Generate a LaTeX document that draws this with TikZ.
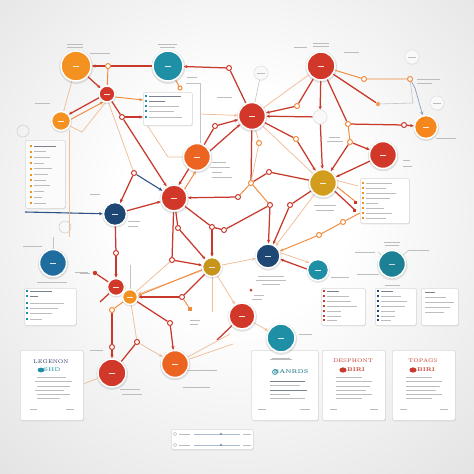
\documentclass[tikz,border=0pt]{standalone}
\usetikzlibrary{shadows,arrows.meta,calc}
\definecolor{bgA}{HTML}{D3D3D3}
\definecolor{redL}{HTML}{C8392B}
\definecolor{oraL}{HTML}{EE8B3C}
\definecolor{ltL}{HTML}{F0BE98}
\definecolor{navL}{HTML}{2D5285}
\definecolor{grL}{HTML}{C4C4C4}
\definecolor{txG}{HTML}{BDBDBD}
\definecolor{txD}{HTML}{7A8290}
\definecolor{cOr}{HTML}{F39221}
\definecolor{cOr2}{HTML}{F6871D}
\definecolor{cOR}{HTML}{EC6422}
\definecolor{cTeal}{HTML}{1F8FA5}
\definecolor{cRed}{HTML}{D2382A}
\definecolor{cNavy}{HTML}{1E4774}
\definecolor{cBlue}{HTML}{1F6C9F}
\definecolor{cMus}{HTML}{D29D1C}
\definecolor{tRed}{HTML}{C63A2E}
\definecolor{tNavy}{HTML}{2B3F66}
\pgfdeclarelayer{bgl}
\pgfdeclarelayer{edl}
\pgfsetlayers{bgl,edl,main}
\pgfdeclareradialshading{bgshade}{\pgfpoint{0bp}{4bp}}{color(0bp)=(white); color(12bp)=(white); color(42bp)=(bgA!75!white); color(60bp)=(bgA); color(80bp)=(bgA)}
\newcommand\TLn[3]{\draw[tx] (#1,#2) -- (#3,#2);}
\newcommand\TLd[3]{\draw[txd] (#1,#2) -- (#3,#2);}
\newcommand\LRow[4]{\fill[#4] (#1-1,#2-1) rectangle ++(2,2); \draw[tx] (#1+3,#2) -- ++(#3,0);}
\newcommand\LRowD[4]{\fill[#4] (#1-1,#2-1) rectangle ++(2,2); \draw[txd] (#1+3,#2) -- ++(#3,0);}
\newcommand\ndbar{\rule{6pt}{0.6pt}}
\begin{document}
\begin{tikzpicture}[x=1pt,y=-1pt,>={Stealth[length=3.6pt,width=3.2pt]},
 nd/.style 2 args={circle,fill=#1,draw=white,line width=1.5pt,minimum size=#2,inner sep=0pt,text=white!85!#1,drop shadow={shadow xshift=0.2pt,shadow yshift=-0.9pt,opacity=0.22,shadow scale=1.13}},
 lt/.style={circle,fill=gray!5,draw=gray!22,line width=0.6pt,minimum size=#1,inner sep=0pt,drop shadow={shadow xshift=0.3pt,shadow yshift=-0.8pt,opacity=0.12}},
 gr/.style={circle,draw=gray!35,line width=0.6pt,minimum size=#1,inner sep=0pt},
 mk/.style={circle,draw=#1,fill=white,line width=1pt,minimum size=5pt,inner sep=0pt},
 dt/.style={circle,fill=#1,minimum size=4.5pt,inner sep=0pt},
 eR/.style={draw=redL,line width=1.25pt},
 eO/.style={draw=oraL,line width=0.95pt},
 eL/.style={draw=ltL,line width=0.75pt},
 eG/.style={draw=grL,line width=0.6pt},
 eN/.style={draw=navL,line width=1.1pt},
 tx/.style={draw=txG,line width=0.85pt},
 txd/.style={draw=txD,line width=1pt},
 box/.style={draw=gray!30,fill=white,line width=0.5pt,rounded corners=1.5pt,anchor=north west,inner sep=0pt,drop shadow={shadow xshift=0.5pt,shadow yshift=-1.2pt,opacity=0.18}},
 ttl/.style={font=\fontsize{5.3}{6}\selectfont,inner sep=0pt},
 lgo/.style={font=\fontsize{5.4}{6}\selectfont\bfseries,inner sep=0pt},
]
\begin{pgfonlayer}{bgl}
\shade[shading=bgshade] (0,0) rectangle (474,474);
\end{pgfonlayer}
\useasboundingbox (0,0) rectangle (474,474);

% ---------- boxes ----------
\node[box,minimum width=49pt,minimum height=33pt] (bx1) at (143,92) {};
\node[box,minimum width=40pt,minimum height=68pt,fill=gray!3] (bx2) at (25,140) {};
\node[box,minimum width=49pt,minimum height=45pt] (bx3) at (360,178) {};
\node[box,minimum width=52pt,minimum height=37pt] (bx4) at (24,288) {};
\node[box,minimum width=44pt,minimum height=37pt] (bx5) at (321,288) {};
\node[box,minimum width=41pt,minimum height=37pt] (bx6) at (375,288) {};
\node[box,minimum width=37pt,minimum height=37pt] (bx7) at (421,288) {};
\node[box,minimum width=63pt,minimum height=70pt] (c1) at (20,350) {};
\node[box,minimum width=67pt,minimum height=70pt] (c2) at (251,350) {};
\node[box,minimum width=63pt,minimum height=70pt] (c3) at (322,350) {};
\node[box,minimum width=63pt,minimum height=70pt] (c4) at (392,350) {};
\node[box,minimum width=82pt,minimum height=20pt] (bx8) at (171,429) {};

% box contents
\LRowD{146}{96}{32}{cTeal}\LRowD{146}{101}{16}{cTeal}\LRow{146}{106}{30}{cTeal}\LRow{146}{111}{25}{cTeal}\LRow{146}{117}{33}{cTeal}
\LRowD{31}{146}{22}{cOr}\LRow{31}{151.7}{12}{cOr}\LRow{31}{157.4}{16}{cOr}\LRow{31}{163.1}{10}{cOr}\LRow{31}{168.8}{18}{cOr}\LRow{31}{174.5}{14}{cOr}\LRow{31}{180.2}{12}{cOr}\LRow{31}{185.9}{16}{cOr}\LRow{31}{191.6}{10}{cOr}\LRow{31}{197.3}{8}{cOr}\LRow{31}{203}{12}{cOr}
\LRow{363}{183}{26}{cOr}\LRow{363}{188}{20}{cOr}\LRow{363}{193}{30}{cOr}\LRow{363}{198}{24}{cOr}\LRow{363}{203}{12}{cOr}\LRow{363}{208}{18}{cOr}\LRow{363}{213}{26}{cOr}\LRow{363}{218}{20}{cOr}
\LRowD{27}{291}{22}{cTeal}\LRowD{27}{296}{8}{cTeal}\LRow{27}{303}{34}{cTeal}\LRow{27}{308}{28}{cTeal}\LRow{27}{313}{22}{cTeal}\LRow{27}{319}{12}{cTeal}
\LRowD{324}{291}{12}{cRed}\LRow{324}{296}{22}{cRed}\LRow{324}{301}{24}{cRed}\LRow{324}{306}{30}{cRed}\LRow{324}{311}{14}{cRed}\LRow{324}{316}{14}{cRed}\LRow{324}{320}{10}{cRed}
\LRowD{378}{291}{12}{cNavy}\LRow{378}{296}{20}{cNavy}\LRow{378}{301}{26}{cNavy}\LRow{378}{306}{24}{cNavy}\LRow{378}{311}{14}{cNavy}\LRow{378}{316}{14}{cNavy}\LRow{378}{320}{10}{cNavy}
\TLd{425}{292}{435}\TLn{425}{297}{446}\TLn{425}{302}{454}\TLn{425}{307}{450}\TLn{425}{312}{444}
% cards
\node[ttl,text=tNavy] (t1) at (51,362) {LEGENON};
\fill[cTeal] (41,370) ellipse (3.4pt and 2.4pt);
\node[lgo,text=cTeal!80] (lg1) at (52,370) {SHD};
\TLn{37}{377}{66}\TLn{35}{381}{72}\TLn{37}{386}{70}\TLn{35}{390}{64}\TLn{37}{394}{70}\TLn{37}{398}{60}
\TLn{30}{409}{37}\TLn{66}{409}{74}
\TLn{272}{358}{290}
\draw[cTeal,line width=0.8pt] (275,372) circle (2.4pt);
\node[lgo,text=cTeal!70!gray] (lg2) at (291,372) {BANRDS};
\TLd{270}{381}{305}\TLn{270}{385}{300}\TLd{270}{390}{307}\TLn{270}{394}{290}\TLn{270}{398}{305}
\TLn{258}{409}{266}\TLn{300}{409}{310}
\node[ttl,text=tRed] (t3) at (353,361) {DESPHONT};
\fill[tRed] (343,370) ellipse (3.6pt and 2.6pt);
\node[lgo,text=tRed] (lg3) at (356,370) {BIRI};
\TLn{336}{377}{362}\TLn{336}{381}{372}\TLn{336}{386}{370}\TLn{336}{390}{366}\TLn{336}{394}{372}\TLn{336}{398}{362}
\TLn{330}{409}{337}\TLn{370}{409}{378}
\node[ttl,text=tRed] (t4) at (423,361) {TOPAGS};
\fill[tRed] (413,370) ellipse (3.6pt and 2.6pt);
\node[lgo,text=tRed] (lg4) at (426,370) {BIRI};
\TLn{406}{377}{432}\TLn{406}{381}{442}\TLn{406}{386}{440}\TLn{406}{390}{436}\TLn{406}{394}{442}\TLn{406}{398}{432}
\TLn{400}{409}{407}\TLn{440}{409}{448}
% bottom small box
\foreach \yy in {434,445}{
 \draw[gray!45,line width=0.5pt] (175,\yy) circle (1.8pt);
 \TLn{179}{\yy}{190}
 \draw[navL!40,line width=0.7pt] (194,\yy) -- (240,\yy);
 \fill[navL!70] (221,\yy) circle (1.2pt);
 \TLn{243}{\yy}{251}
}

% ---------- main nodes ----------
\node[nd={cOr}{30pt}] (n1) at (76,66) {\ndbar};
\node[nd={cTeal}{30pt}] (n2) at (168,66) {\ndbar};
\node[nd={cRed}{16pt}] (n3) at (107,94) {\ndbar};
\node[nd={cOr}{19pt}] (n4) at (61,121) {\ndbar};
\node[nd={cOR}{27pt}] (n5) at (197,157) {\ndbar};
\node[nd={cRed}{26pt}] (n6) at (174,198) {\ndbar};
\node[nd={cNavy}{23pt}] (n7) at (115,214) {\ndbar};
\node[nd={cRed}{28pt}] (n8) at (321,66) {\ndbar};
\node[nd={cRed}{27pt}] (n9) at (252,116) {\ndbar};
\node[nd={cOr2}{23pt}] (n10) at (426,127) {\ndbar};
\node[nd={cRed}{27pt}] (n11) at (383,155) {\ndbar};
\node[nd={cMus}{27pt}] (n12) at (323,183) {\ndbar};
\node[lt=14pt] (n13) at (320,117) {};
\node[nd={cNavy}{24pt}] (n14) at (268,256) {\ndbar};
\node[nd={cTeal}{21pt}] (n15) at (318,270) {\ndbar};
\node[nd={cTeal!90!black}{27pt}] (n16) at (392,264) {\ndbar};
\node[nd={cBlue}{27pt}] (n17) at (53,263) {\ndbar};
\node[nd={cMus!95!black}{19pt}] (n18) at (212,267) {\ndbar};
\node[nd={cRed}{17pt}] (n19) at (116,287) {\ndbar};
\node[nd={cOr}{15pt}] (n20) at (130,297) {\ndbar};
\node[nd={cRed}{26pt}] (n21) at (242,316) {\ndbar};
\node[nd={cOR}{27pt}] (n22) at (175,364) {\ndbar};
\node[nd={cRed}{28pt}] (n23) at (112,373) {\ndbar};
\node[nd={cTeal}{28pt}] (n24) at (281,338) {\ndbar};
% light / grey decor circles
\node[lt=14pt] (l1) at (261,73) {};
\node[lt=14pt] (l2) at (412,57) {};
\node[lt=14pt] (l3) at (437,103) {};
\node[gr=12pt] (g1) at (23,131) {};
\node[gr=12pt] (g2) at (65,227) {};
\TLn{257}{73}{265}\TLn{408}{57}{416}\TLn{433}{103}{441}
% markers
\node[mk=oraL] (qb) at (108,66) {};
\node[mk=redL] (qc) at (122,117) {};
\node[mk=redL] (qd) at (134,173) {};
\node[mk=redL] (qa) at (229,68) {};
\node[mk=oraL,minimum size=4pt] (qt2) at (180,88) {};
\node[mk=redL] (qe) at (215,126) {};
\node[mk=oraL] (qf) at (297,106) {};
\node[mk=oraL] (qg) at (348,124) {};
\node[mk=oraL] (qh) at (350,142) {};
\node[mk=redL] (qi) at (404,125) {};
\node[mk=oraL] (qj) at (364,79) {};
\node[mk=oraL] (qk) at (410,79) {};
\node[dt=oraL!80] (ql) at (378,104) {};
\node[mk=redL] (qm) at (238,197) {};
\node[mk=redL] (qn) at (172,260) {};
\node[mk=redL] (qo) at (212,227) {};
\node[mk=redL] (qp) at (224,230) {};
\node[mk=redL] (qq) at (270,205) {};
\node[mk=redL] (qr) at (290,205) {};
\node[mk=redL] (qs) at (116,253) {};
\node[mk=redL] (qs2) at (178,228) {};
\node[mk=redL] (qt) at (182,297) {};
\node[mk=redL] (qu) at (170,323) {};
\node[mk=oraL] (qv) at (112,310) {};
\node[mk=redL] (qw) at (112,347) {};
\node[mk=redL] (qx) at (137,342) {};
\node[mk=oraL] (qy) at (259,143) {};
\node[mk=redL] (qz) at (269,172) {};
\node[mk=oraL] (qaa) at (251,183) {};
\node[mk=oraL] (qab) at (296,139) {};
\node[mk=oraL] (q1) at (343,222) {};
\node[mk=oraL] (q2) at (319,235) {};
\node[fill=oraL,minimum size=4pt,inner sep=0pt] (qord) at (190,309) {};
\node[dt=redL] (qdot) at (95,273) {};
\node[dt=redL,minimum size=3pt] (qdot2) at (251,290) {};
\coordinate (pb1a) at (143,100);
\coordinate (pb1b) at (143,117);
\coordinate (pnav) at (25,212);
\coordinate (pv) at (200,114);

% ---------- connectors ----------
\begin{pgfonlayer}{edl}
\draw[eR,->] (n2) -- (n1);
\draw[eO] (qb) -- (n3);
\draw[eR,->] (n1) -- (n3);
\draw[eR,->] (n3.205) -- (n4.40);
\draw[eO,->] (n4.10) -- (n3.245);
\draw[eL] (n4) -- (n1);
\draw[eL] (n4.-30) -- (82,132) -- (n3.-100);
\draw[eO,->] (n3.-20) -- (pb1a);
\draw[eR] (n3) -- (qc); \draw[eR,->] (qc) -- (n6); \draw[eR,->] (qc) -- (pb1b);
\draw[eL] (n3.-80) -- (qd); \draw[eN,->] (qd) -- (n6); \draw[eR,->] (qd) -- (n7);
\draw[eR] (n9) -- (qa); \draw[eR,->] (qa) -- (n2);
\draw[eO] (n2) -- (qt2);
\draw[eG] (186,83) -- (200,83) -- (200,145);
\draw[eL] (147,125) -- (168,157) -- (n5);
\draw[eR,->] (n5.235) -- (n6.70);
\draw[eO,->] (n6.40) -- (n5.265);
\draw[eR] (n5) -- (qe); \draw[eR,->] (qe) -- (n9);
\draw[eR,->] (n5.25) -- (n9.215);
\draw[eL,->] (pv) -- (n9);
\draw[eG] (l1) -- (n9);
\draw[eL] (n9) -- (n8);
\draw[eR] (n8) -- (qf); \draw[eR,->] (qf) -- (n9);
\draw[eR,->] (n13) -- (n9);
\draw[eR,->] (n8) -- (n13);
\draw[eR] (n8) -- (qg) -- (qi); \draw[eR,->] (qi) -- (n10);
\draw[eO] (n8) -- (qj) -- (qk);
\draw[navL!55,line width=0.7pt,->] (qk) -- (415,88) -- (n10);
\draw[eG] (qk) -- (413,103) -- (ql);
\draw[eR] (n8) -- (ql);
\draw[eO] (qg) -- (qh);
\draw[eR,->] (qh) -- (n11);
\draw[eR,->] (qh) -- (n12);
\draw[eR,->] (n13) -- (n12);
\draw[eR,->] (n11) -- (n12);
\draw[eR] (n9) -- (qaa);
\draw[eO] (qaa) -- (qm);
\draw[eR,->] (qm) -- (n6);
\draw[eL] (n9) -- (qy) -- (qaa);
\draw[eL] (n9) -- (n12);
\draw[eR] (n9) -- (qab); \draw[eR,->] (qab) -- (n12);
\draw[eR] (n12) -- (qz) -- (qaa);
\draw[eR] (n12) -- (qr); \draw[eR,->] (qr) -- (n14);
\draw[eO] (qaa) -- (qq); \draw[eR,->] (qq) -- (n14);
\draw[eL,->] (n12) -- (n14);
\draw[eO,->] (360,213) -- (q1) -- (q2) -- (n14);
\draw[eL] (n12.10) -- (358,186);
\draw[eO] (n12.-15) -- (356,202);
\draw[eR] (n12.-35) -- (355,210);
\draw[eR,->] (n15.175) -- (n14.-15);
\draw[eL,->] (n14.15) -- (n15.140);
\draw[eR] (n6) -- (qo); \draw[eR,->] (qo) -- (n18);
\draw[eR] (qo) -- (qp) -- (qq);
\draw[eR] (n6) -- (qs2); \draw[eR,->] (qs2) -- (n18);
\draw[eR] (n6) -- (qn); \draw[eR,->] (qn) -- (n18);
\draw[eN,->] (pnav) -- (n7);
\draw[eR,->] (n7) -- (n6);
\draw[eR] (n7) -- (qs); \draw[eR,->] (qs) -- (n19);
\draw[eL,->] (n18) -- (n20);
\draw[eO,->] (n18.195) -- (n20.10);
\draw[eR] (n18) -- (qt); \draw[eR,->] (qt) -- (n20);
\draw[eO] (qt) -- (qord);
\draw[eL] (qn) -- (n20);
\draw[eR] (n20) -- (qu); \draw[eR,->] (qu) -- (n22);
\draw[eO] (n20) -- (qv); \draw[eR] (qv) -- (qw); \draw[eR,->] (qw) -- (n23);
\draw[eR] (n23) -- (qx); \draw[eL,->] (qx) -- (n22); \draw[eL] (n20) -- (qx);
\draw[eR] (n19) -- (qdot);
\draw[eR] (n19) -- (100,302);
\draw[eG] (130,265) -- (n20);
\draw[eL,->] (n18) -- (n21);
\draw[eL] (n18) -- (212,312);
\draw[eL,->] (n21) -- (n24);
\draw[eR] (n21) -- (217,340);
\draw[eL] (n22) -- (230,334);
\draw[eL] (n22) -- (233,344);
\draw[eL] (n23) -- (83,384);
\draw[eL,->] (n18) -- (n14);
\draw[eL] (69,130) -- (69,237);
\draw[eG] (53,237) -- (n17);
\draw[eG] (n16) -- (378,252); \draw[eG] (n16) -- (409,250);
\end{pgfonlayer}
\fill[redL] (353.5,200.5) rectangle ++(3,3);
\fill[redL] (353,208.5) rectangle ++(3,3);

% ---------- small label lines ----------
\TLn{67}{44}{83}\TLn{67}{47}{83}\TLn{90}{53}{110}
\TLn{158}{44}{177}\TLn{160}{47}{175}\TLn{187}{77}{197}
\TLn{313}{43}{329}\TLn{313}{46}{329}\TLn{294}{47}{307}\TLn{344}{52}{359}
\TLn{217}{97}{232}\TLn{35}{103}{50}
\TLn{212}{162}{226}\TLn{210}{167}{230}\TLn{212}{172}{222}\TLn{212}{177}{232}
\TLn{329}{137}{340}\TLn{327}{141}{343}
\TLn{436}{138}{456}\TLn{417}{79}{440}\TLn{417}{83}{432}
\TLn{403}{160}{410}\TLn{403}{166}{412}
\TLn{314}{205}{336}\TLn{316}{210}{334}
\TLn{128}{221}{140}\TLn{128}{226}{138}\TLn{90}{194}{100}
\TLn{258}{276}{284}\TLn{256}{280}{286}\TLn{262}{284}{280}
\TLn{331}{277}{349}
\TLn{384}{242}{400}\TLn{385}{245}{399}\TLn{355}{252}{375}\TLn{409}{250}{429}\TLn{357}{274}{379}\TLn{385}{285}{400}
\TLn{23}{246}{42}\TLn{75}{272}{88}\TLn{37}{282}{67}
\TLn{80}{273}{90}
\TLn{254}{295}{264}\TLn{252}{299}{262}
\TLn{190}{320}{200}\TLn{190}{324}{198}
\TLn{187}{370}{217}\TLn{183}{387}{210}
\TLn{299}{334}{312}\TLn{270}{359}{292}
\TLn{120}{389}{140}\TLn{122}{394}{142}
\TLn{90}{350}{103}
\end{tikzpicture}
\end{document}
